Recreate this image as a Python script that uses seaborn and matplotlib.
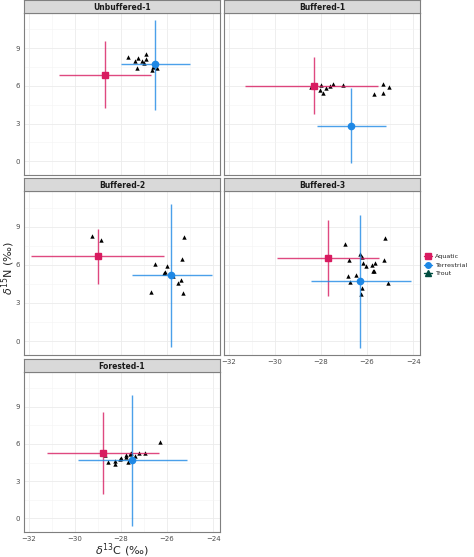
import matplotlib
matplotlib.use("Agg")
import matplotlib.pyplot as plt
import seaborn as sns
import pandas as pd
from matplotlib.lines import Line2D

sites = ["Unbuffered-1", "Buffered-1", "Buffered-2", "Buffered-3", "Forested-1"]

# source means and ranges: (x, y, xlo, xhi, ylo, yhi)
aquatic = {
    "Unbuffered-1": (-28.7, 6.9, -30.7, -26.7, 4.2, 9.57),
    "Buffered-1": (-28.29, 6.0, -31.28, -25.5, 3.73, 8.3),
    "Buffered-2": (-29.0, 6.67, -31.88, -26.11, 4.52, 8.82),
    "Buffered-3": (-27.67, 6.53, -29.89, -25.46, 3.58, 9.49),
    "Forested-1": (-28.78, 5.24, -31.21, -26.36, 1.94, 8.58),
}
terrestrial = {
    "Unbuffered-1": (-26.5, 7.7, -28.0, -25.0, 4.1, 11.25),
    "Buffered-1": (-26.69, 2.81, -28.17, -25.16, -0.18, 5.82),
    "Buffered-2": (-25.81, 5.16, -27.53, -24.06, -0.46, 10.75),
    "Buffered-3": (-26.29, 4.70, -28.42, -24.1, -0.54, 9.92),
    "Forested-1": (-27.5, 4.73, -29.84, -25.15, -0.59, 9.92),
}
trout_c = {
    "Unbuffered-1": [-27.68, -27.4, -27.25, -27.3, -27.1, -27.0, -26.9, -26.9, -26.66, -26.6, -26.43],
    "Buffered-1": [-28.42, -27.99, -28.02, -27.9, -27.76, -27.61, -27.47, -27.03, -25.69, -25.29, -25.29, -25.04],
    "Buffered-2": [-29.23, -28.87, -26.52, -26.01, -26.07, -26.11, -25.74, -25.53, -25.38, -25.35, -25.25, -26.68, -25.29],
    "Buffered-3": [-26.95, -26.76, -26.84, -26.75, -26.49, -26.32, -26.21, -26.18, -26.03, -25.78, -25.75, -25.71,
                   -25.64, -25.28, -25.2, -25.1, -26.23, -26.24],
    "Forested-1": [-28.7, -28.57, -28.25, -28.25, -28.03, -27.99, -27.77, -27.76, -27.7, -27.6, -27.55, -27.4,
                   -27.2, -26.96, -26.32],
}
trout_n = {
    "Unbuffered-1": [8.31, 8.01, 8.2, 7.43, 7.96, 7.83, 8.5, 8.1, 7.23, 7.48, 7.43],
    "Buffered-1": [5.9, 6.06, 5.68, 5.44, 5.84, 6.0, 6.14, 6.03, 5.34, 6.11, 5.42, 5.9],
    "Buffered-2": [8.25, 7.96, 6.02, 5.91, 5.46, 5.38, 5.08, 4.6, 4.81, 6.48, 8.17, 3.84, 3.74],
    "Buffered-3": [7.66, 6.37, 5.13, 4.68, 5.19, 6.85, 6.61, 6.16, 5.89, 5.94, 5.54, 5.54, 6.16, 6.4, 8.12, 4.6,
                   4.17, 3.66],
    "Forested-1": [5.11, 4.57, 4.62, 4.38, 4.78, 4.84, 4.95, 5.08, 4.52, 5.22, 5.3, 5.03, 5.3, 5.27, 6.13],
}

C_AQ, C_TE, C_TR = "#D81B60", "#1E88E5", "#004D40"
sns.set_theme(style="whitegrid")
plt.rcParams["font.family"] = ["DejaVu Sans"]

W, H = 474, 557
fig = plt.figure(figsize=(W / 100, H / 100), dpi=100)
cols = [24, 224]
rows = [(13, 175), (191, 355), (372, 532)]
pw = 196
pos = {"Unbuffered-1": (0, 0), "Buffered-1": (1, 0), "Buffered-2": (0, 1), "Buffered-3": (1, 1), "Forested-1": (0, 2)}

for s in sites:
    c, r = pos[s]
    top, bot = rows[r]
    ax = fig.add_axes([cols[c] / W, 1 - bot / H, pw / W, (bot - top) / H])
    ax.set_facecolor("white")
    ax.grid(True, color="#ebebeb", lw=0.6)
    ax.set_xticks([-32, -30, -28, -26, -24])
    ax.set_xticks([-31, -29, -27, -25], minor=True)
    ax.set_yticks([0, 3, 6, 9])
    ax.set_yticks([1.5, 4.5, 7.5, 10.5], minor=True)
    ax.grid(True, which="minor", color="#f3f3f3", lw=0.4)
    for sp in ax.spines.values():
        sp.set_color("#7f7f7f"); sp.set_linewidth(0.8)
    ax.set_xlim(-32.2, -23.7)
    ax.set_ylim(-1.1, 11.8)
    for d, col, mk in [(aquatic[s], C_AQ, "s"), (terrestrial[s], C_TE, "o")]:
        x, y, xl, xh, yl, yh = d
        ax.errorbar([x], [y], xerr=[[x - xl], [xh - x]], yerr=[[y - yl], [yh - y]],
                    fmt="none", ecolor=col, elinewidth=1.0, alpha=0.8, capsize=0)
        ax.plot([x], [y], marker=mk, color=col, ms=4.5, ls="none")
    df = pd.DataFrame({"c": trout_c[s], "n": trout_n[s]})
    sns.scatterplot(data=df, x="c", y="n", ax=ax, marker="^", color="black", s=10, linewidth=0, legend=False)
    ax.set_xlabel(""); ax.set_ylabel("")
    ax.tick_params(labelsize=5, colors="#4d4d4d", length=2, pad=1)
    if r < 2 and not (c == 1 and r == 1):
        ax.set_xticklabels([])
    if c == 1:
        ax.set_yticklabels([])
    if c == 1 and r == 0:
        ax.tick_params(axis="x", length=0)
    st = fig.add_axes([cols[c] / W, 1 - top / H, pw / W, 13 / H])
    st.set_facecolor("#d9d9d9")
    st.set_xticks([]); st.set_yticks([])
    for sp in st.spines.values():
        sp.set_color("#7f7f7f"); sp.set_linewidth(0.8)
    st.text(0.5, 0.45, s, ha="center", va="center", fontsize=5.5, fontweight="bold", color="#1a1a1a")

fig.text(8 / W, 1 - 268 / H, r"$\delta^{15}$N (‰)", rotation=90, ha="center", va="center", fontsize=8)
fig.text(122 / W, 1 - 550 / H, r"$\delta^{13}$C (‰)", ha="center", va="center", fontsize=8)

handles = [
    Line2D([0], [0], color=C_AQ, marker="s", ms=4, lw=1),
    Line2D([0], [0], color=C_TE, marker="o", ms=4, lw=1),
    Line2D([0], [0], color=C_TR, marker="^", ms=4, lw=1),
]
fig.legend(handles, ["Aquatic", "Terrestrial", "Trout"], loc="center left",
           bbox_to_anchor=(424 / W, 1 - 265 / H), frameon=False, fontsize=4.6,
           handlelength=1.3, handletextpad=0.4, borderaxespad=0, borderpad=0)

fig.savefig("out.png", dpi=100)
